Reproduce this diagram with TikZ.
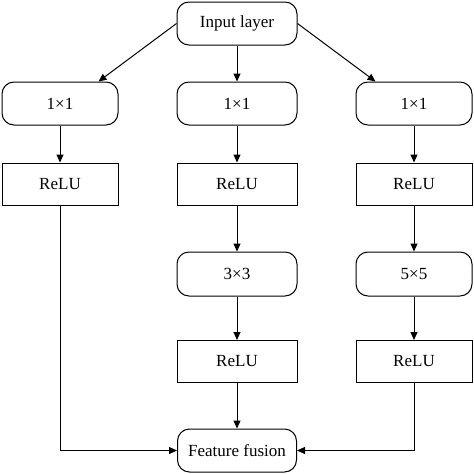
\documentclass[tikz,border=0pt]{standalone}
\usepackage{fontspec}
\setmainfont{Liberation Serif}
\usetikzlibrary{arrows.meta}

\begin{document}
\begin{tikzpicture}[x=1pt, y=-1pt,
    rbox/.style={draw, rounded corners=12pt, line width=1pt,
        minimum width=116pt, minimum height=43pt,
        font=\fontsize{17}{20}\selectfont},
    sbox/.style={draw, line width=1pt,
        minimum width=116pt, minimum height=42pt,
        font=\fontsize{17}{20}\selectfont},
    arr/.style={-{Triangle[length=8pt, width=7pt]}, line width=1pt}]

    % Frame
    \useasboundingbox (0,0) rectangle (474,474);

    % Input
    \node[rbox, minimum width=120pt] (inp) at (237,23.5) {Input layer};

    % Left branch
    \node[rbox] (lconv) at (60,103.5) {1×1};
    \node[sbox] (lrelu) at (60,184) {ReLU};

    % Middle branch
    \node[rbox, minimum width=120pt] (mconv) at (237,103.5) {1×1};
    \node[sbox, minimum width=120pt] (mrelu) at (237,184) {ReLU};
    \node[rbox, minimum width=120pt, minimum height=44pt] (mconvb) at (237,274) {3×3};
    \node[sbox, minimum width=120pt] (mrelub) at (237,361.5) {ReLU};

    % Right branch
    \node[rbox] (rconv) at (414,103.5) {1×1};
    \node[sbox] (rrelu) at (414,184) {ReLU};
    \node[rbox, minimum height=44pt] (rconvb) at (414,274) {5×5};
    \node[sbox] (rrelub) at (414,361.5) {ReLU};

    % Output
    \node[rbox, minimum width=119pt] (fus) at (237,450.5) {Feature fusion};

    % Connections
    \draw[arr] (inp.west) -- ([xshift=-20pt]lconv.north east);
    \draw[arr] (inp.south) -- (mconv.north);
    \draw[arr] (inp.east) -- ([xshift=20pt]rconv.north west);

    \draw[arr] (lconv) -- (lrelu);
    \draw[arr] (mconv) -- (mrelu);
    \draw[arr] (rconv) -- (rrelu);
    \draw[arr] (mrelu) -- (mconvb);
    \draw[arr] (rrelu) -- (rconvb);
    \draw[arr] (mconvb) -- (mrelub);
    \draw[arr] (rconvb) -- (rrelub);

    \draw[arr] (lrelu.south) |- (fus.west);
    \draw[arr] (mrelub) -- (fus);
    \draw[arr] (rrelub.south) |- (fus.east);

\end{tikzpicture}
\end{document}
